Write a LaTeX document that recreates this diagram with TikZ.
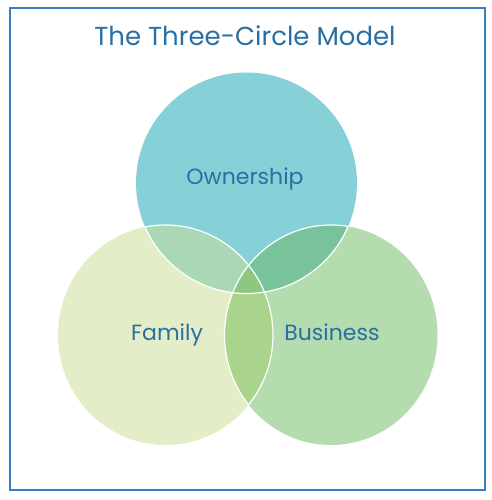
\documentclass[tikz,border=0pt]{standalone}
\usepackage{fontspec}
\setmainfont{Poppins}
\definecolor{frame}{HTML}{3A7DBE}
\definecolor{txt}{HTML}{2A6FA3}
\definecolor{cO}{HTML}{86D0D8}
\definecolor{cF}{HTML}{E3EEC8}
\definecolor{cB}{HTML}{B4DCAF}
\definecolor{cOF}{HTML}{AAD7B4}
\definecolor{cOB}{HTML}{78C39B}
\definecolor{cFB}{HTML}{AAD48C}
\definecolor{cOFB}{HTML}{8CC882}
\tikzset{
  label/.style={text=txt, anchor=base, inner sep=0pt, font=\fontsize{22}{26}\selectfont},
  ttl/.style={text=txt, anchor=base, inner sep=0pt, font=\fontsize{26}{30}\selectfont},
  rim/.style={draw=white, line width=1.2pt}
}
\begin{document}
\begin{tikzpicture}[x=1pt,y=-1pt]
\useasboundingbox (0,0) rectangle (491,500);
\fill[white] (0,0) rectangle (491,500);
\def\oshape{(246.5,183) circle [radius=110.5]}
\def\fshape{(165.5,335) ellipse [x radius=107.5, y radius=110]}
\def\bshape{(331,335) ellipse [x radius=106.5, y radius=110]}
% single circles
\fill[cF] \fshape;
\fill[cB] \bshape;
\fill[cO] \oshape;
% pairwise overlaps
\begin{scope}
  \clip \oshape;
  \fill[cOF] \fshape;
\end{scope}
\begin{scope}
  \clip \oshape;
  \fill[cOB] \bshape;
\end{scope}
\begin{scope}
  \clip \fshape;
  \fill[cFB] \bshape;
\end{scope}
\begin{scope}
  \clip \oshape;
  \clip \fshape;
  \fill[cOFB] \bshape;
\end{scope}
% white rims inside other circles
\begin{scope}
  \clip \fshape \bshape;
  \draw[rim] \oshape;
\end{scope}
\begin{scope}
  \clip \oshape \bshape;
  \draw[rim] \fshape;
\end{scope}
\begin{scope}
  \clip \oshape \fshape;
  \draw[rim] \bshape;
\end{scope}
% frame
\draw[frame, line width=2pt] (9.5,8.5) rectangle (485,490);
% texts
\node[ttl] (title) at (245,46) {The Three-Circle Model};
\node[label] (own) at (245,184) {Ownership};
\node[label] (fam) at (167,340) {Family};
\node[label] (bus) at (332,340) {Business};
\end{tikzpicture}
\end{document}
